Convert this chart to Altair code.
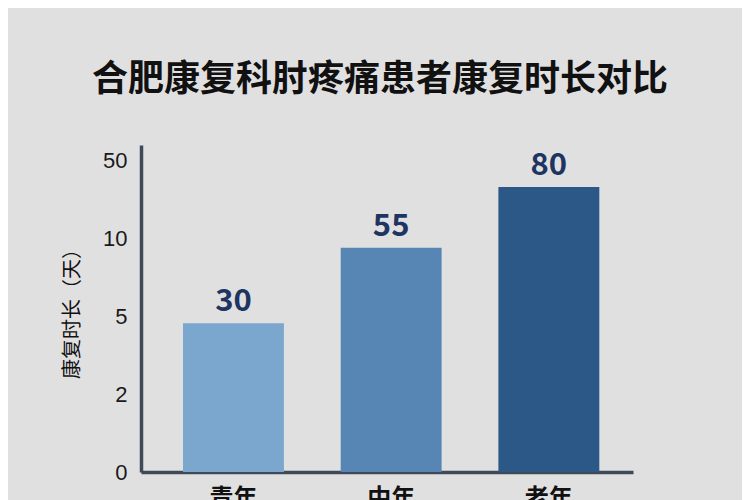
import altair as alt
import pandas as pd

# Data
groups = ["青年", "中年", "老年"]
value_labels = ["30", "55", "80"]
# bar heights measured in axis-tick positions (ticks are evenly spaced)
bar_heights = [1.91, 2.88, 3.66]
tick_labels = ["0", "2", "5", "10", "50"]
bar_colors = ["#7ba7cf", "#5786b5", "#2b5886"]

df = pd.DataFrame({"group": groups, "h": bar_heights, "label": value_labels})

label_arr = "[" + ",".join("'%s'" % t for t in tick_labels) + "]"

base = alt.Chart(df).encode(
    x=alt.X("group:N", sort=groups,
            scale=alt.Scale(paddingInner=0.36, paddingOuter=0.24, align=0.555),
            axis=alt.Axis(title=None, labelAngle=0, labelFontSize=24,
                          labelColor="#111111", labelFont="Noto Sans CJK SC",
                          labelPadding=14, ticks=False, domainColor="#3e4a58",
                          domainWidth=3.5, labelFontWeight="bold")),
)

bars = base.mark_bar().encode(
    y=alt.Y("h:Q", scale=alt.Scale(domain=[0, 4.2], nice=False, zero=True),
            axis=alt.Axis(title="康复时长（天）", values=list(range(len(tick_labels))),
                          labelExpr=label_arr + "[datum.value]",
                          grid=False, ticks=False, labelFontSize=22,
                          labelColor="#1a1a1a", labelFont="Liberation Sans",
                          labelPadding=14, domainColor="#3e4a58", domainWidth=3.5,
                          titleFontSize=20, titleFont="Noto Sans CJK SC",
                          titleColor="#111111", titleFontWeight="normal",
                          titlePadding=20)),
    color=alt.Color("group:N", sort=groups,
                    scale=alt.Scale(domain=groups, range=bar_colors), legend=None),
)

texts = base.mark_text(dy=-5, baseline="bottom", fontSize=31, fontWeight="bold",
                       color="#1f3561", font="Noto Sans CJK SC").encode(
    y=alt.Y("h:Q"),
    text="label:N",
)

chart = (bars + texts).properties(
    width=492, height=327,
    title=alt.Title("合肥康复科肘疼痛患者康复时长对比", fontSize=36, fontWeight="bold",
                    font="Noto Sans CJK SC", color="#111111", anchor="middle",
                    offset=46, dx=-7),
    background="#e1e0e1",
    padding={"left": 133, "top": 137, "right": 109, "bottom": 40},
    autosize=alt.AutoSizeParams(type="none"),
).configure_view(stroke=None)

chart.save("out.html", embed_options={"renderer": "svg", "actions": False})
